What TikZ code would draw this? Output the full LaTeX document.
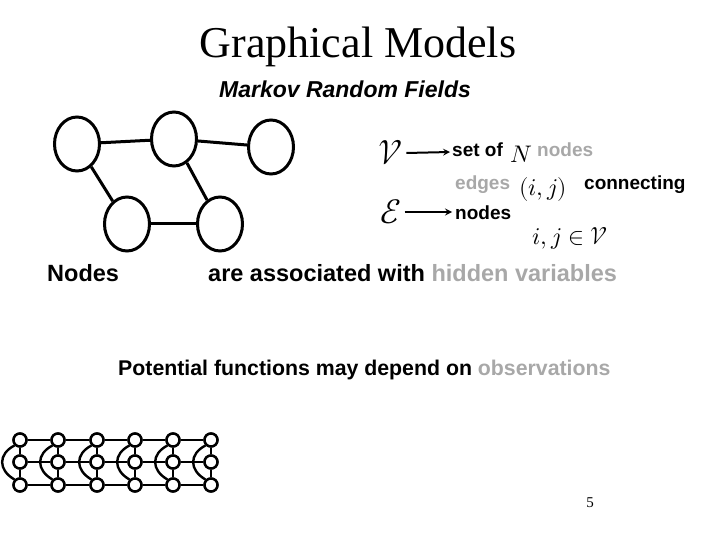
\documentclass[tikz,border=0pt]{standalone}
\usetikzlibrary{shapes.geometric,calc}
\usepackage{fontspec}
\setmainfont{Liberation Sans}
\newfontfamily\serifA{Liberation Serif}
\usepackage{unicode-math}
\begin{document}
\begin{tikzpicture}[x=1pt,y=-1pt,
  big/.style={draw,ellipse,line width=3pt,minimum width=45pt,minimum height=54pt,inner sep=0},
  sm/.style={draw,circle,line width=2.4pt,minimum size=13pt,inner sep=0,fill=white},
  e/.style={line width=3pt},
  le/.style={line width=2.4pt},
  t/.style={font=\fontsize{23.5}{25}\selectfont\bfseries,anchor=west,inner sep=0},
  ts/.style={font=\fontsize{19}{21}\selectfont\bfseries,anchor=west,inner sep=0},
  m/.style={font=\fontsize{24}{26}\selectfont,inner sep=0}]
\useasboundingbox (0,0) rectangle (720,540);
\definecolor{gr}{gray}{0.66}
\node[font=\serifA\fontsize{44}{48}\selectfont] (title) at (358,47) {Graphical Models};
\node[font=\fontsize{23}{25}\selectfont\bfseries\itshape] (sub) at (345,89) {Markov Random Fields};
% graph
\node[big] (a) at (77,144) {};
\node[big] (b) at (174,139) {};
\node[big] (c) at (271,147) {};
\node[big] (d) at (127,224) {};
\node[big] (f) at (220,224) {};
\draw[e] (a) -- (b); \draw[e] (b) -- (c); \draw[e] (a) -- (d);
\draw[e] (b) -- (f); \draw[e] (d) -- (f);
% definitions
\node[m,font=\fontsize{34}{34}\selectfont] (V) at (391,153) {$\mathcal{V}$};
\node[m,font=\fontsize{34}{34}\selectfont] (E) at (391,212) {$\mathcal{E}$};
\coordinate (va) at (450,152); \coordinate (ea) at (452,212);
\draw[line width=2pt,-stealth] ($(V.east)+(3,0)$) -- (va);
\draw[line width=2pt,-stealth] ($(E.east)+(3,0)$) -- (ea);
\node[ts] (setof) at (452,150) {set of};
\node[m] (N) at (521,154) {$N$};
\node[ts,text=gr] (nodes1) at (537,150) {nodes};
\node[ts,text=gr] (edges) at (455,185) {edges};
\node[m] (ij) at (543,190) {$(i,j)$};
\node[ts] (conn) at (584,185) {connecting};
\node[ts] (nodes2) at (455,213) {nodes};
\node[m] (ijv) at (570,238) {$i,j\in\mathcal{V}$};
\node[t] (Nodes) at (47,273) {Nodes};
\node[t] (assoc) at (208,273) {are associated with \textcolor{gr}{hidden variables}};
\node[t,font=\fontsize{21.3}{23}\selectfont\bfseries] (pot) at (118,370) {Potential functions may depend on \textcolor{gr}{observations}};
\node[font=\serifA\fontsize{15}{16}\selectfont] (pg) at (590,503) {5};
% lattice
\foreach \i/\x in {1/20,2/58,3/97,4/135,5/173,6/211}{
  \node[sm] (t\i) at (\x,440) {};
  \node[sm] (m\i) at (\x,462) {};
  \node[sm] (b\i) at (\x,485) {};
}
\foreach \i/\j in {1/2,2/3,3/4,4/5,5/6}{
  \draw[le] (t\i) -- (t\j); \draw[le] (m\i) -- (m\j); \draw[le] (b\i) -- (b\j);
}
\foreach \i in {1,...,6}{
  \draw[le] (t\i) -- (m\i); \draw[le] (m\i) -- (b\i);
  \draw[le] (t\i.south west) .. controls ($(m\i)+(-22,-8)$) and ($(m\i)+(-22,8)$) .. (b\i.north west);
}
\foreach \i in {1,...,6}{
  \node[sm] at (t\i) {}; \node[sm] at (m\i) {}; \node[sm] at (b\i) {};
}
\end{tikzpicture}
\end{document}
